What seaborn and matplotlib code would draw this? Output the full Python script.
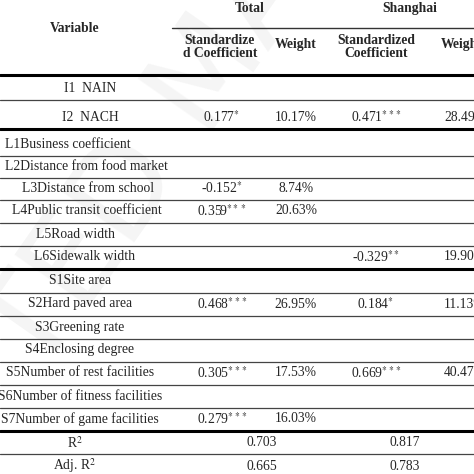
import matplotlib.pyplot as plt
import seaborn as sns

sns.set_theme(style="white")
plt.rcParams['font.family'] = ['Liberation Serif', 'DejaVu Serif']
plt.rcParams['mathtext.fontset'] = 'stix'

# table content
variables = ["I1  NAIN", "I2  NACH", "L1Business coefficient", "L2Distance from food market",
             "L3Distance from school", "L4Public transit coefficient", "L5Road width",
             "L6Sidewalk width", "S1Site area", "S2Hard paved area", "S3Greening rate",
             "S4Enclosing degree", "S5Number of rest facilities", "S6Number of fitness facilities",
             "S7Number of game facilities"]
total_coef = ["", "0.177$^{*}$", "", "", "-0.152$^{*}$", "0.359$^{***}$", "", "", "",
              "0.468$^{***}$", "", "", "0.305$^{***}$", "", "0.279$^{***}$"]
total_weight = ["", "10.17%", "", "", "8.74%", "20.63%", "", "", "", "26.95%", "", "",
                "17.53%", "", "16.03%"]
sh_coef = ["", "0.471$^{***}$", "", "", "", "", "", "-0.329$^{**}$", "", "0.184$^{*}$", "", "",
           "0.669$^{***}$", "", ""]
sh_weight = ["", "28.49%", "", "", "", "", "", "19.90%", "", "11.13%", "", "", "40.47%", "", ""]
r2_total, r2_sh = "0.703", "0.817"
adj_total, adj_sh = "0.665", "0.783"

row_y = [88, 117, 144, 166, 188, 211, 234, 257, 281, 304, 327, 350, 373, 396, 419]
var_x = [90, 90, 5, 5, 22, 12, 36, 34, 80, 80, 80, 80, 80, 80, 80]
var_ha = ["center", "center", "left", "left", "left", "left", "left", "left",
          "center", "center", "center", "center", "center", "center", "center"]
thick_after = {1, 7, 14}

fig = plt.figure(figsize=(4.74, 4.74), dpi=100)
ax = fig.add_axes([0, 0, 1, 1])
ax.set_xlim(0, 474)
ax.set_ylim(474, 0)
ax.axis("off")

fs = 9.8
bold = dict(fontsize=fs, fontweight="bold", ha="center", va="center")
ax.text(75, 28, "Variable", **bold)
ax.text(250, 8, "Total", **bold)
ax.text(410, 8, "Shanghai", **bold)
ax.plot([172, 474], [28, 28], color="#333", lw=1.0)
ax.text(220, 47, "Standardize\nd Coefficient", linespacing=1.0, **bold)
ax.text(296, 44, "Weight", **bold)
ax.text(376, 47, "Standardized\nCoefficient", linespacing=1.0, **bold)
ax.text(462, 44, "Weight", **bold)
ax.plot([0, 474], [75, 75], color="black", lw=2.2)

for i, name in enumerate(variables):
    y = row_y[i]
    ax.text(var_x[i], y, name, fontsize=fs, ha=var_ha[i], va="center")
    ax.text(222, y, total_coef[i], fontsize=fs, ha="center", va="center")
    ax.text(296, y, total_weight[i], fontsize=fs, ha="center", va="center")
    ax.text(376, y, sh_coef[i], fontsize=fs, ha="center", va="center")
    ax.text(465, y, sh_weight[i], fontsize=fs, ha="center", va="center")
    yl = y + 11.5
    ax.plot([0, 474], [yl, yl], color="black" if i in thick_after else "#444",
            lw=2.2 if i in thick_after else 0.9)

ax.text(75, 443, "R$^{2}$", fontsize=fs, ha="center", va="center")
ax.text(262, 443, r2_total, fontsize=fs, ha="center", va="center")
ax.text(405, 443, r2_sh, fontsize=fs, ha="center", va="center")
ax.plot([0, 474], [454, 454], color="#444", lw=0.9)
ax.text(75, 466, "Adj. R$^{2}$", fontsize=fs, ha="center", va="center")
ax.text(262, 466, adj_total, fontsize=fs, ha="center", va="center")
ax.text(405, 466, adj_sh, fontsize=fs, ha="center", va="center")

# faint watermark
ax.text(150, 160, "TED MA", fontsize=90, color="#bbbbbb", alpha=0.15, rotation=55,
        ha="center", va="center", zorder=0, family="DejaVu Sans")

fig.savefig("out.png", dpi=100)
